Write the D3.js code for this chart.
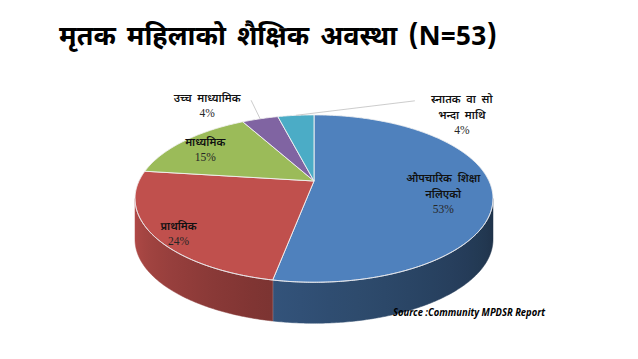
<!DOCTYPE html>
<html>
<head>
<meta charset="utf-8">
<script src="https://cdn.jsdelivr.net/npm/d3@7/dist/d3.min.js"></script>
<style>
  body{ margin:0; background:#fff; }
  .title{ font-family:"Noto Sans Devanagari","Noto Sans","Lohit Devanagari",sans-serif; font-weight:bold; font-size:27px; word-spacing:4px; fill:#000; }
  .lbl{ font-family:"Noto Sans Devanagari","Noto Sans","Lohit Devanagari",sans-serif; font-weight:600; font-size:11px; fill:#111; }
  .pct{ font-family:"Liberation Serif","Times New Roman",serif; font-size:11.5px; fill:#262626; }
  .src{ font-family:"Open Sans",sans-serif; font-weight:bold; font-style:italic; font-size:10px; fill:#000; }
</style>
</head>
<body>
<svg id="chart" width="638" height="359"></svg>
<script>
// data
var categories = ["औपचारिक शिक्षा नलिएको", "प्राथमिक", "माध्यमिक", "उच्च माध्यामिक", "स्नातक वा सो भन्दा माथि"];
var labelLines = [["औपचारिक  शिक्षा", "नलिएको"], ["प्राथमिक"], ["माध्यमिक"], ["उच्च  माध्यामिक"], ["स्नातक  वा  सो", "भन्दा  माथि"]];
var percents = [53, 24, 15, 4, 4];
var colors = ["#4F81BD", "#C0504D", "#9BBB59", "#8064A2", "#4BACC6"];

var svg = d3.select("#chart");

// 3d pie projection (top face centre, radii, perspective, depth)
var cx = 314, cy = 181, sxR = 175, syR = 80, persp = 0.21, depth = 41;

function proj(theta, r, dy) {
  var u = r * Math.sin(theta), v = r * Math.cos(theta);
  var w = 1 + persp * v;
  return [cx + sxR * u / w, cy - syR * v / w + (dy || 0)];
}

var pie = d3.pie().sort(null).value(function(d){ return d; })
  .startAngle(0).endAngle(2 * Math.PI);
var arcs = pie(percents);

function arcPoints(a0, a1, r, dy) {
  var n = Math.max(2, Math.ceil(Math.abs(a1 - a0) / 0.01));
  var pts = [];
  for (var i = 0; i <= n; i++) pts.push(proj(a0 + (a1 - a0) * i / n, r, dy));
  return pts;
}

var line = d3.line();
var defs = svg.append("defs");

// side walls, only the front part is visible
var thL = Math.acos(-persp), thR = 2 * Math.PI - thL;
var light = d3.scaleLinear().domain([102, 191, 258]).range([0.38, 0.645, 0.93]);

arcs.forEach(function(d, i) {
  var a0 = Math.max(d.startAngle, thL), a1 = Math.min(d.endAngle, thR);
  if (a1 <= a0) return;
  var top = arcPoints(a0, a1, 1, 0);
  var bot = arcPoints(a1, a0, 1, depth);
  var xs = top.map(function(p){ return p[0]; });
  var xmin = d3.min(xs), xmax = d3.max(xs);
  var g = defs.append("linearGradient").attr("id", "wall" + i)
    .attr("gradientUnits", "userSpaceOnUse")
    .attr("x1", xmin).attr("x2", xmax).attr("y1", 0).attr("y2", 0);
  var base = d3.rgb(colors[i]);
  var stops = [];
  for (var k = 0; k <= 12; k++) {
    var t = a0 + (a1 - a0) * k / 12;
    var f = light(t * 180 / Math.PI);
    stops.push({off: (proj(t, 1, 0)[0] - xmin) / (xmax - xmin),
      c: d3.rgb(base.r * f, base.g * f, base.b * f).formatHex()});
  }
  stops.sort(function(a, b){ return a.off - b.off; });
  stops.forEach(function(s){
    g.append("stop").attr("offset", s.off).attr("stop-color", s.c);
  });
  svg.append("path")
    .attr("d", line(top.concat(bot)) + "Z")
    .attr("fill", "url(#wall" + i + ")")
    .attr("stroke", "url(#wall" + i + ")").attr("stroke-width", 0.5);
  // seam line at slice boundary on the wall
  if (d.endAngle < thR) {
    var p1 = proj(d.endAngle, 1, 0), p2 = proj(d.endAngle, 1, depth);
    svg.append("line").attr("x1", p1[0]).attr("y1", p1[1]).attr("x2", p2[0]).attr("y2", p2[1])
      .attr("stroke", "#d9c9c9").attr("stroke-width", 0.8);
  }
});

// top faces
arcs.forEach(function(d, i) {
  var pts = [proj(0, 0, 0)].concat(arcPoints(d.startAngle, d.endAngle, 1, 0));
  svg.append("path")
    .attr("d", line(pts) + "Z")
    .attr("fill", colors[i])
    .attr("stroke", "#f2f2f2").attr("stroke-width", 0.9)
    .attr("stroke-linejoin", "round");
});

// light rim along the front edge
svg.append("path")
  .attr("d", line(arcPoints(thL, thR, 1, 0)))
  .attr("fill", "none").attr("stroke", "#e8e8ee").attr("stroke-width", 0.8).attr("opacity", 0.8);

// data labels: radius inside slice, or offset for leader labels
var labelLayout = [
  {r: 0.72, dx: 2, dy: 8},
  {r: 0.85, dx: -1, dy: 9},
  {r: 0.80, dx: -3, dy: 2},
  {r: 1.0, dx: -53, dy: -12, leader: true},
  {r: 1.0, dx: 166, dy: 0, leader: true}
];

arcs.forEach(function(d, i) {
  var lay = labelLayout[i];
  var mid = (d.startAngle + d.endAngle) / 2;
  var a = proj(mid, lay.r, 0);
  var x = a[0] + lay.dx, y = a[1] + lay.dy;
  var lines = labelLines[i];
  var lh = 16;
  var total = lines.length * lh + 13;
  var y0 = y - total / 2 + 10;
  if (lay.leader) {
    var tx = i === 3 ? x + 44 : x - 47;
    svg.append("line").attr("x1", tx).attr("y1", y0 - 2).attr("x2", a[0]).attr("y2", a[1])
      .attr("stroke", "#bfbfbf").attr("stroke-width", 0.8);
  }
  lines.forEach(function(s, j) {
    svg.append("text").attr("class", "lbl").attr("x", x).attr("y", y0 + j * lh)
      .attr("text-anchor", "middle").style("white-space", "pre").text(s);
  });
  svg.append("text").attr("class", "pct").attr("x", x).attr("y", y0 + lines.length * lh - 1)
    .attr("text-anchor", "middle").text(percents[i] + "%");
});

// title and source
svg.append("text").attr("class", "title").attr("x", 278).attr("y", 45)
  .attr("text-anchor", "middle").text("मृतक महिलाको शैक्षिक अवस्था (N=53)");

svg.append("text").attr("class", "src").attr("x", 393).attr("y", 316)
  .attr("textLength", 152).attr("lengthAdjust", "spacingAndGlyphs")
  .text("Source :Community MPDSR Report");
</script>
</body>
</html>
